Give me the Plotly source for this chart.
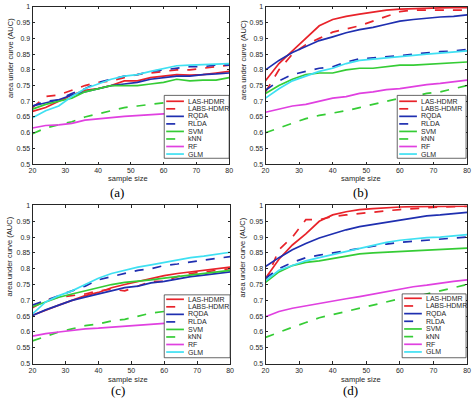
import plotly.graph_objects as go

W, H = 474, 403

sample_size = [20, 24, 28, 32, 36, 40, 44, 48, 52, 56, 60, 64, 68, 72, 76, 80]
methods = ["LAS-HDMR", "LABS-HDMR", "RQDA", "RLDA", "SVM", "kNN", "RF", "GLM"]
panel_labels = ["(a)", "(b)", "(c)", "(d)"]
y_tick_vals = [0.5, 0.55, 0.6, 0.65, 0.7, 0.75, 0.8, 0.85, 0.9, 0.95, 1.0]
y_tick_text = ["0.5", "0.55", "0.6", "0.65", "0.7", "0.75", "0.8", "0.85", "0.9", "0.95", "1"]
x_tick_vals = [20, 30, 40, 50, 60, 70, 80]

# ---- panel (a)
a_las = [0.668, 0.680, 0.700, 0.720, 0.735, 0.740, 0.750, 0.765, 0.765, 0.775, 0.780, 0.785, 0.783, 0.785, 0.790, 0.795]
a_labs = [0.680, 0.715, 0.720, 0.735, 0.750, 0.760, 0.765, 0.775, 0.785, 0.790, 0.795, 0.800, 0.800, 0.805, 0.810, 0.815]
a_rqda = [0.685, 0.695, 0.705, 0.720, 0.730, 0.740, 0.750, 0.755, 0.760, 0.770, 0.775, 0.780, 0.780, 0.785, 0.787, 0.790]
a_rlda = [0.685, 0.700, 0.705, 0.725, 0.740, 0.760, 0.770, 0.780, 0.785, 0.795, 0.800, 0.805, 0.810, 0.810, 0.815, 0.815]
a_svm = [0.675, 0.690, 0.700, 0.710, 0.730, 0.740, 0.750, 0.750, 0.750, 0.755, 0.760, 0.770, 0.765, 0.767, 0.767, 0.775]
a_knn = [0.597, 0.615, 0.625, 0.635, 0.650, 0.660, 0.670, 0.680, 0.685, 0.690, 0.695, 0.695, 0.700, 0.700, 0.705, 0.705]
a_rf = [0.615, 0.623, 0.625, 0.630, 0.640, 0.645, 0.648, 0.652, 0.655, 0.658, 0.660, 0.660, 0.663, 0.665, 0.665, 0.667]
a_glm = [0.648, 0.670, 0.685, 0.715, 0.740, 0.755, 0.770, 0.780, 0.785, 0.795, 0.805, 0.813, 0.815, 0.817, 0.820, 0.820]

# ---- panel (b)
b_las = [0.765, 0.820, 0.860, 0.900, 0.940, 0.960, 0.970, 0.977, 0.983, 0.990, 0.993, 0.995, 0.996, 0.997, 0.998, 0.998]
b_labs = [0.730, 0.800, 0.850, 0.880, 0.900, 0.920, 0.930, 0.940, 0.955, 0.970, 0.985, 0.990, 0.990, 0.990, 0.990, 0.990]
b_rqda = [0.800, 0.830, 0.855, 0.875, 0.893, 0.905, 0.918, 0.928, 0.935, 0.945, 0.955, 0.960, 0.965, 0.968, 0.970, 0.975]
b_rlda = [0.735, 0.765, 0.785, 0.795, 0.805, 0.810, 0.825, 0.835, 0.838, 0.840, 0.845, 0.850, 0.855, 0.858, 0.860, 0.865]
b_svm = [0.725, 0.750, 0.770, 0.785, 0.790, 0.790, 0.800, 0.805, 0.805, 0.810, 0.815, 0.815, 0.818, 0.820, 0.822, 0.825]
b_knn = [0.600, 0.615, 0.630, 0.645, 0.655, 0.662, 0.670, 0.680, 0.690, 0.700, 0.710, 0.715, 0.725, 0.730, 0.740, 0.750]
b_rf = [0.665, 0.675, 0.685, 0.690, 0.700, 0.710, 0.715, 0.725, 0.730, 0.737, 0.740, 0.747, 0.753, 0.757, 0.762, 0.767]
b_glm = [0.710, 0.740, 0.765, 0.780, 0.795, 0.805, 0.820, 0.830, 0.835, 0.838, 0.842, 0.847, 0.850, 0.853, 0.857, 0.860]

# ---- panel (c)
c_las = [0.653, 0.670, 0.685, 0.700, 0.715, 0.725, 0.740, 0.750, 0.760, 0.770, 0.778, 0.785, 0.790, 0.795, 0.800, 0.805]
c_labs = [0.677, 0.700, 0.710, 0.715, 0.720, 0.730, 0.735, 0.730, 0.745, 0.760, 0.760, 0.775, 0.785, 0.790, 0.795, 0.800]
c_rqda = [0.652, 0.670, 0.685, 0.700, 0.710, 0.720, 0.730, 0.740, 0.745, 0.755, 0.760, 0.768, 0.775, 0.780, 0.785, 0.790]
c_rlda = [0.685, 0.700, 0.715, 0.730, 0.745, 0.765, 0.775, 0.785, 0.795, 0.800, 0.810, 0.815, 0.820, 0.827, 0.833, 0.838]
c_svm = [0.680, 0.695, 0.710, 0.720, 0.730, 0.740, 0.750, 0.757, 0.760, 0.765, 0.770, 0.775, 0.780, 0.785, 0.790, 0.795]
c_knn = [0.572, 0.585, 0.600, 0.610, 0.620, 0.625, 0.635, 0.640, 0.650, 0.660, 0.665, 0.670, 0.678, 0.685, 0.690, 0.698]
c_rf = [0.587, 0.595, 0.600, 0.605, 0.610, 0.612, 0.615, 0.618, 0.620, 0.625, 0.627, 0.630, 0.632, 0.635, 0.638, 0.642]
c_glm = [0.657, 0.695, 0.715, 0.730, 0.750, 0.770, 0.785, 0.795, 0.805, 0.812, 0.820, 0.828, 0.835, 0.840, 0.846, 0.852]

# ---- panel (d)
d_las = [0.770, 0.830, 0.875, 0.910, 0.950, 0.970, 0.980, 0.987, 0.990, 0.993, 0.995, 0.996, 0.997, 0.998, 0.998, 0.998]
d_labs = [0.760, 0.860, 0.900, 0.955, 0.955, 0.965, 0.970, 0.975, 0.980, 0.983, 0.987, 0.990, 0.992, 0.995, 0.996, 0.997]
d_rqda = [0.807, 0.835, 0.860, 0.880, 0.897, 0.910, 0.923, 0.933, 0.940, 0.948, 0.955, 0.962, 0.967, 0.970, 0.975, 0.978]
d_rlda = [0.770, 0.800, 0.820, 0.835, 0.843, 0.850, 0.857, 0.865, 0.872, 0.878, 0.883, 0.887, 0.890, 0.893, 0.897, 0.900]
d_svm = [0.757, 0.790, 0.810, 0.820, 0.825, 0.833, 0.840, 0.847, 0.850, 0.852, 0.855, 0.858, 0.860, 0.862, 0.863, 0.865]
d_knn = [0.583, 0.600, 0.615, 0.630, 0.645, 0.655, 0.665, 0.675, 0.685, 0.695, 0.705, 0.710, 0.720, 0.728, 0.740, 0.750]
d_rf = [0.648, 0.665, 0.675, 0.683, 0.690, 0.698, 0.705, 0.712, 0.720, 0.727, 0.735, 0.743, 0.748, 0.755, 0.760, 0.765]
d_glm = [0.762, 0.795, 0.810, 0.825, 0.835, 0.845, 0.855, 0.865, 0.875, 0.883, 0.890, 0.895, 0.898, 0.900, 0.905, 0.908]

panels = [
    [a_las, a_labs, a_rqda, a_rlda, a_svm, a_knn, a_rf, a_glm],
    [b_las, b_labs, b_rqda, b_rlda, b_svm, b_knn, b_rf, b_glm],
    [c_las, c_labs, c_rqda, c_rlda, c_svm, c_knn, c_rf, c_glm],
    [d_las, d_labs, d_rqda, d_rlda, d_svm, d_knn, d_rf, d_glm],
]

colors = ["#e8232a", "#e8232a", "#1f2fb0", "#1f2fb0", "#35cc35", "#35cc35", "#e040e0", "#3fe0f2"]
dashes = ["solid", "dash", "solid", "dash", "solid", "dash", "solid", "solid"]

# plot-area pixel boxes: (left, right, top, bottom)
boxes = [(29, 229, 3, 163), (266, 471, 3, 163), (29, 230, 205, 366), (266, 471, 205, 366)]
# legend pixel boxes: (left, right, top, bottom, first row y, row step)
leg_boxes = [(163, 229, 93, 157, 99, 7.67), (400, 470, 93, 157, 99, 7.67),
             (163, 230, 296, 360, 300.5, 7.67), (405, 470, 295, 360, 299.5, 7.8)]
xtitle_pos = [(126, 178), (363, 178), (126, 382), (363, 382)]
ytitle_pos = [(6, 55), (243, 57), (6, 257), (243, 258)]
label_pos = [(115, 192), (363, 192), (116, 393), (352, 393)]

def px(x):
    return x / W

def py(y):
    return 1 - y / H

FONT = "Liberation Sans, Arial, Helvetica, sans-serif"

fig = go.Figure()
layout = dict(width=W, height=H, margin=dict(l=0, r=0, t=0, b=0),
              paper_bgcolor="white", plot_bgcolor="white", showlegend=False,
              font=dict(family=FONT, size=7, color="#262626"))
shapes = []
annotations = []

for p, series in enumerate(panels):
    n = "" if p == 0 else str(p + 1)
    for k, vals in enumerate(series):
        fig.add_trace(go.Scatter(
            x=sample_size, y=vals, mode="lines", name=methods[k],
            line=dict(color=colors[k], width=1.7, dash=dashes[k]),
            xaxis="x" + n, yaxis="y" + n))
    l, r, t, b = boxes[p]
    axcommon = dict(showgrid=False, zeroline=False, showline=True, linecolor="#262626",
                    linewidth=0.8, mirror="allticks", ticks="inside", ticklen=2.5,
                    tickcolor="#262626", tickwidth=0.8, tickfont=dict(size=7, family=FONT, color="#262626"))
    layout["xaxis" + n] = dict(domain=[px(l), px(r)], range=[20, 80], tickvals=x_tick_vals,
                               anchor="y" + n, **axcommon)
    layout["yaxis" + n] = dict(domain=[py(b), py(t)], range=[0.5, 1], tickvals=y_tick_vals,
                               ticktext=y_tick_text, anchor="x" + n, **axcommon)

    xt = xtitle_pos[p]
    annotations.append(dict(text="sample size", x=px(xt[0]), y=py(xt[1]), xref="paper", yref="paper",
                            xanchor="center", yanchor="middle",
                            showarrow=False, font=dict(size=7.5, family=FONT, color="#262626")))
    yt = ytitle_pos[p]
    annotations.append(dict(text="area under curve (AUC)", x=px(yt[0]), y=py(yt[1]), xref="paper",
                            yref="paper", showarrow=False, textangle=-90,
                            xanchor="center", yanchor="middle",
                            font=dict(size=7.5, family=FONT, color="#262626")))
    lp = label_pos[p]
    annotations.append(dict(text=panel_labels[p], x=px(lp[0]), y=py(lp[1]), xref="paper", yref="paper",
                            xanchor="center", yanchor="middle",
                            showarrow=False, font=dict(size=13, family="Liberation Serif, DejaVu Serif, serif",
                                                       color="black")))

    # legend box
    L, R, T, B, r0, step = leg_boxes[p]
    shapes.append(dict(type="rect", xref="paper", yref="paper", x0=px(L), x1=px(R), y0=py(B), y1=py(T),
                       line=dict(color="#262626", width=0.7), fillcolor="white", layer="above"))
    for k, name in enumerate(methods):
        yy = r0 + k * step
        shapes.append(dict(type="line", xref="paper", yref="paper", x0=px(L + 2), x1=px(L + 20),
                           y0=py(yy), y1=py(yy), layer="above",
                           line=dict(color=colors[k], width=1.7, dash=dashes[k])))
        annotations.append(dict(text=name, x=px(L + 22.5), y=py(yy), xref="paper", yref="paper",
                                xanchor="left", yanchor="middle", showarrow=False,
                                font=dict(size=7, family=FONT, color="#262626")))

layout["shapes"] = shapes
layout["annotations"] = annotations
fig.update_layout(**layout)
fig.write_html("out.html")
